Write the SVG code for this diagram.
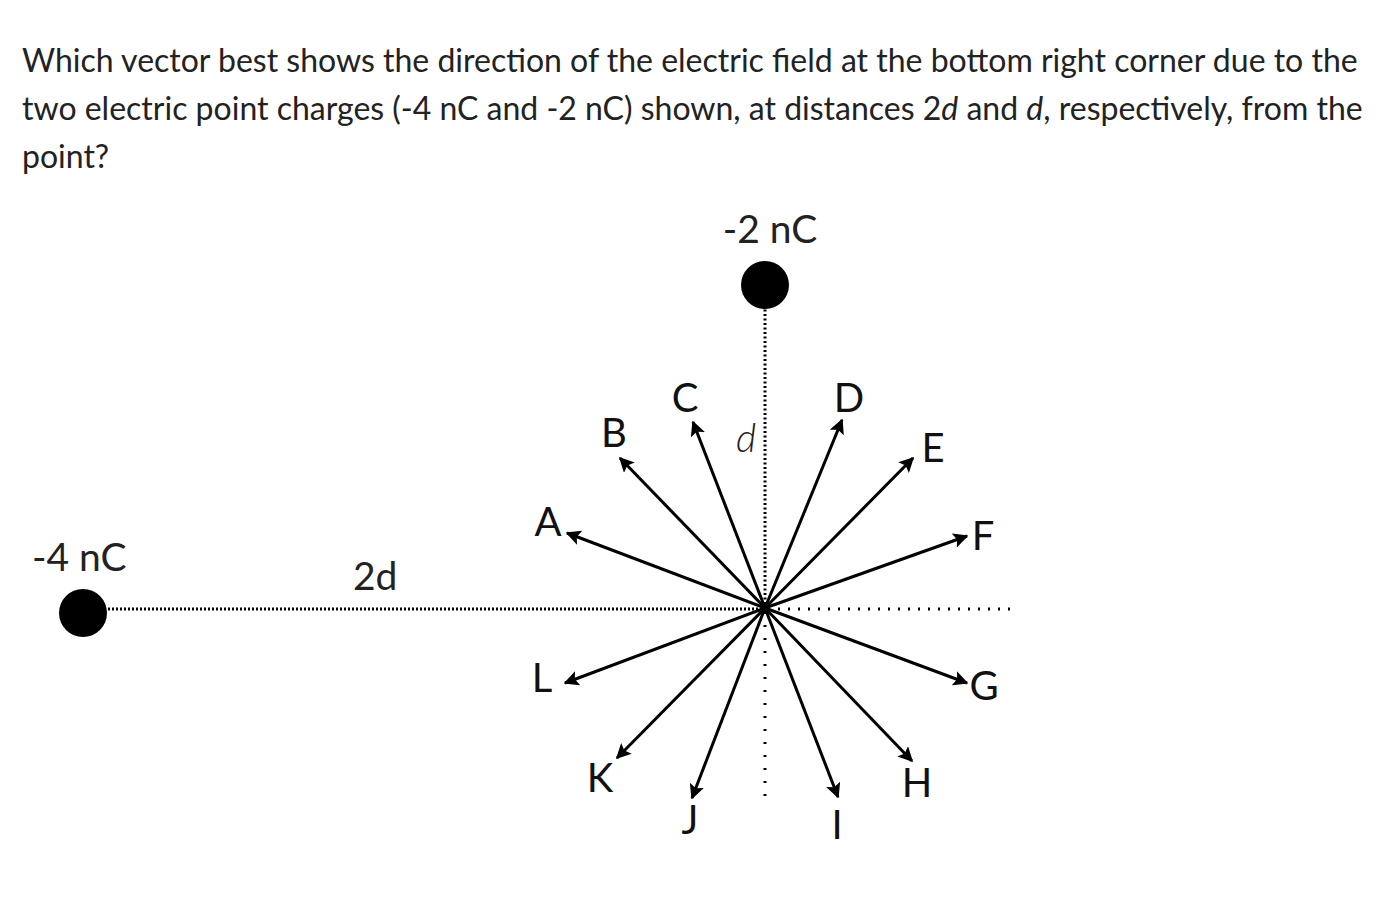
<svg xmlns="http://www.w3.org/2000/svg" width="1382" height="904" viewBox="0 0 1382 904">
<style>
text{font-family:Lato,"Open Sans","Liberation Sans",sans-serif;fill:#222}
.q{font-size:32px}
.lbl{font-size:40px;fill:#111}
.ch{font-size:39px}
.v{stroke:#000;stroke-width:3;marker-end:url(#ah)}
.dot{stroke:#000;stroke-width:3;fill:none}
</style>
<defs>
<marker id="ah" viewBox="0 0 10 10" refX="9" refY="5" markerWidth="5" markerHeight="5" orient="auto" markerUnits="strokeWidth">
<path d="M0,0 L10,5 L0,10 L2,5 z" fill="#000"/>
</marker>
</defs>
<rect width="1382" height="904" fill="#fff"/>
<text class="q" x="22" y="72">Which vector best shows the direction of the electric field at the bottom right corner due to the</text>
<text class="q" x="22" y="120">two electric point charges (-4 nC and -2 nC) shown, at distances 2<tspan font-style="italic">d</tspan> and <tspan font-style="italic">d</tspan>, respectively, from the</text>
<text class="q" x="22" y="168">point?</text>
<g id="guides">
<line class="dot" x1="108" y1="609" x2="765" y2="609" stroke-dasharray="2 2"/>
<line class="dot" x1="768" y1="609" x2="1012" y2="609" stroke-dasharray="2 8"/>
<line class="dot" x1="765" y1="305" x2="765" y2="608" stroke-dasharray="2 2.5"/>
<line class="dot" x1="765" y1="612" x2="765" y2="796" stroke-dasharray="2 11"/>
</g>
<g id="charge-left"><circle cx="83" cy="613" r="24" fill="#000"/><text class="ch" x="32" y="571">-4 nC</text></g>
<g id="charge-top"><circle cx="765" cy="285" r="24" fill="#000"/><text class="ch" x="770" y="243" text-anchor="middle">-2 nC</text></g>
<text class="ch" x="353" y="590">2d</text>
<text class="ch" x="736" y="452" font-style="italic" font-size="32" font-weight="300">d</text>
<g id="connectors">
<line class="v" x1="765" y1="608" x2="567" y2="533"/>
<line class="v" x1="765" y1="608" x2="620" y2="458"/>
<line class="v" x1="765" y1="608" x2="693" y2="422"/>
<line class="v" x1="765" y1="608" x2="842" y2="420"/>
<line class="v" x1="765" y1="608" x2="913" y2="458"/>
<line class="v" x1="765" y1="608" x2="967" y2="536"/>
<line class="v" x1="765" y1="608" x2="967" y2="683"/>
<line class="v" x1="765" y1="608" x2="912" y2="761"/>
<line class="v" x1="765" y1="608" x2="838" y2="797"/>
<line class="v" x1="765" y1="608" x2="692" y2="798"/>
<line class="v" x1="765" y1="608" x2="617" y2="758"/>
<line class="v" x1="765" y1="608" x2="565" y2="683"/>
</g>
<g id="labels">
<text class="lbl" id="A" x="548" y="536" text-anchor="middle">A</text>
<text class="lbl" id="B" x="614" y="447" text-anchor="middle">B</text>
<text class="lbl" id="C" x="685" y="412" text-anchor="middle">C</text>
<text class="lbl" id="D" x="849" y="412" text-anchor="middle">D</text>
<text class="lbl" id="E" x="933" y="462" text-anchor="middle">E</text>
<text class="lbl" id="F" x="983" y="550" text-anchor="middle">F</text>
<text class="lbl" id="G" x="984" y="700" text-anchor="middle">G</text>
<text class="lbl" id="H" x="917" y="797" text-anchor="middle">H</text>
<text class="lbl" id="I" x="837" y="839" text-anchor="middle">I</text>
<text class="lbl" id="J" x="690" y="834" text-anchor="middle">J</text>
<text class="lbl" id="K" x="600" y="792" text-anchor="middle">K</text>
<text class="lbl" id="L" x="542" y="692" text-anchor="middle">L</text>
</g>
</svg>
